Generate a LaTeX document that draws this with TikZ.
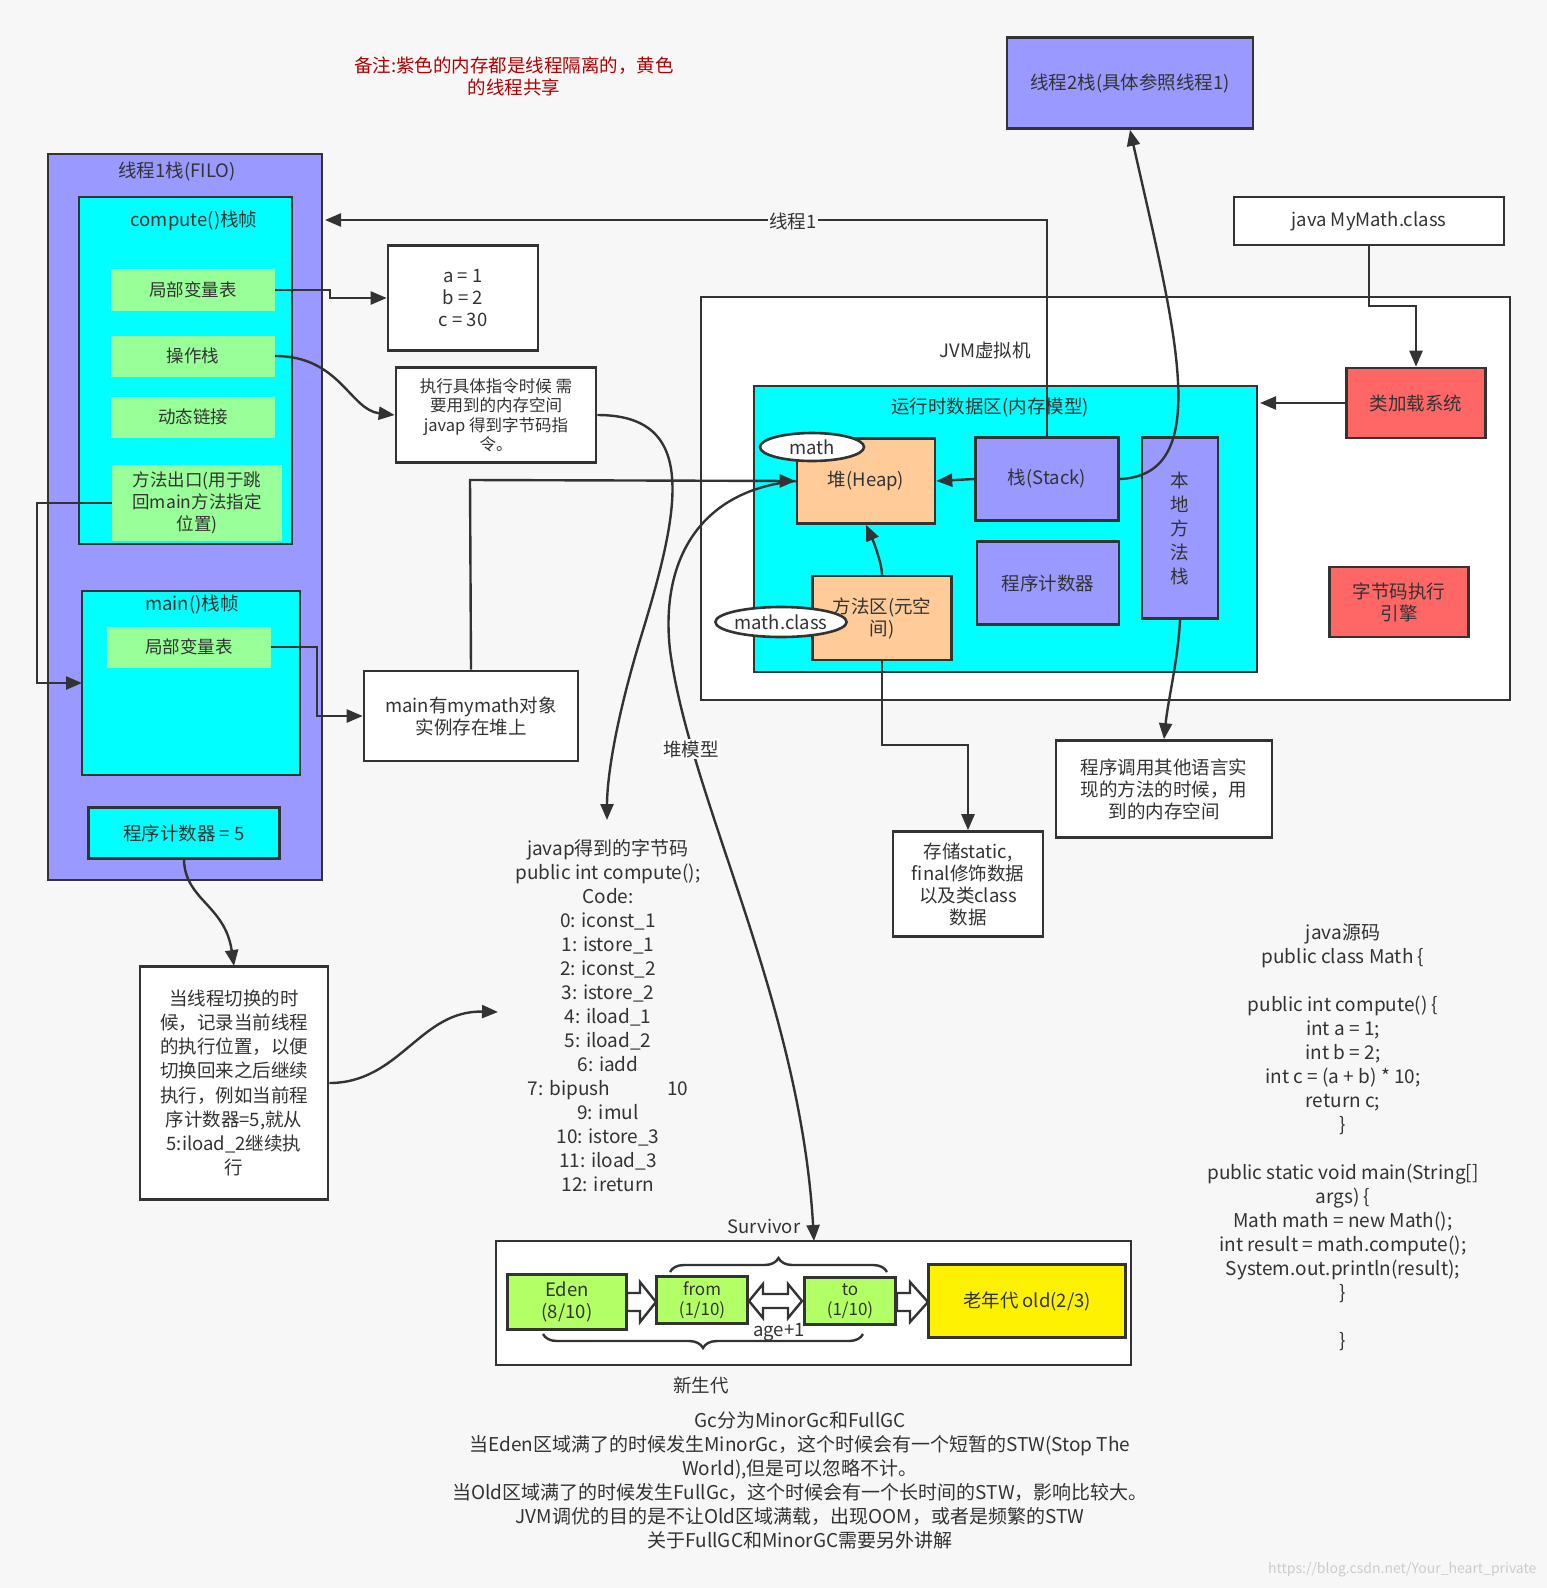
\documentclass[tikz,border=0pt]{standalone}
\usepackage{fontspec}
\setmainfont{Noto Sans CJK SC}
\usetikzlibrary{arrows.meta,decorations.pathreplacing,shapes.geometric}
\definecolor{ln}{HTML}{333333}
\definecolor{purp}{HTML}{9999FF}
\definecolor{cy}{HTML}{00FFFF}
\definecolor{gr}{HTML}{99FF99}
\definecolor{org}{HTML}{FFCC99}
\definecolor{rd}{HTML}{FF6666}
\definecolor{eden}{HTML}{B3FF66}
\definecolor{note}{HTML}{B20000}
\begin{document}
\begin{tikzpicture}[x=1pt,y=-1pt,
  every node/.style={font=\fontsize{18.5}{22}\selectfont, text=ln, align=center},
  box/.style={draw=ln, line width=2.6pt},
  gbox/.style={fill=gr},
  con/.style={draw=ln, line width=2.4pt, -{Triangle[length=16pt,width=13pt]}},
  pl/.style={draw=ln, line width=2.4pt},
  harr/.style={draw=ln, line width=2.4pt, fill=white}]
\useasboundingbox (0,0) rectangle (1547,1588);
\fill[white!97!black] (0,0) rectangle (1547,1588);
% note
\node[text=note] (note) at (514,76) {备注:紫色的内存都是线程隔离的，黄色\\的线程共享};
% thread2
\node[box, fill=purp, minimum width=246, minimum height=91] (t2) at (1130,83) {线程2栈(具体参照线程1)};
% thread1 stack
\draw[box, fill=purp] (48,154) rectangle (322,880);
\node (t1lab) at (177,172) {线程1栈(FILO)};
\draw[box, fill=cy] (79,197) rectangle (292,544);
\node (cplab) at (194,221) {compute()栈帧};
\node[gbox, minimum width=164, minimum height=42, font=\fontsize{17.5}{21}\selectfont] (lv1) at (193,290) {局部变量表};
\node[gbox, minimum width=164, minimum height=41, font=\fontsize{17.5}{21}\selectfont] (os) at (193,356) {操作栈};
\node[gbox, minimum width=164, minimum height=41, font=\fontsize{17.5}{21}\selectfont] (dl) at (193,417) {动态链接};
\node[gbox, minimum width=170, minimum height=76, font=\fontsize{17.5}{22}\selectfont] (mo) at (197,503) {方法出口(用于跳\\回main方法指定\\位置)};
\draw[box, fill=cy] (82,591) rectangle (300,775);
\node (mnlab) at (192,605) {main()栈帧};
\node[gbox, minimum width=164, minimum height=41, font=\fontsize{17.5}{21}\selectfont] (lv2) at (189,647) {局部变量表};
\node[box, fill=cy, minimum width=191, minimum height=51] (pc5) at (184,833) {程序计数器 = 5};
% side boxes
\node[box, fill=white, minimum width=150, minimum height=105] (abc) at (463,298) {a = 1\\b = 2\\c = 30};
\node[box, fill=white, minimum width=200, minimum height=95, font=\fontsize{16.5}{19.5}\selectfont] (exe) at (496,415) {执行具体指令时候 需\\要用到的内存空间\\javap 得到字节码指\\令。};
\node[box, fill=white, minimum width=214, minimum height=90] (mm) at (471,716) {main有mymath对象\\实例存在堆上};
\node[box, fill=white, minimum width=188, minimum height=233, font=\fontsize{18.5}{24.2}\selectfont] (sw) at (234,1083) {当线程切换的时\\候，记录当前线程\\的执行位置，以便\\切换回来之后继续\\执行，例如当前程\\序计数器=5,就从\\5:iload\_2继续执\\行};
% JVM
\draw[box, fill=white] (701,297) rectangle (1510,700);
\node (jvmlab) at (985,350) {JVM虚拟机};
\draw[box, fill=cy] (754,386) rectangle (1257,672);
\node (rtlab) at (990,408) {运行时数据区(内存模型)};
\node[box, fill=org, minimum width=138, minimum height=85] (heap) at (866,481) {堆(Heap)};
\node[box, fill=purp, minimum width=143, minimum height=83] (stk) at (1047,479) {栈(Stack)};
\node[box, fill=purp, minimum width=76, minimum height=181, font=\fontsize{18.5}{24}\selectfont] (nms) at (1180,528) {本\\地\\方\\法\\栈};
\node[box, fill=purp, minimum width=142, minimum height=83] (pcr) at (1048,583) {程序计数器};
\node[box, fill=org, minimum width=139, minimum height=84] (ma) at (882,618) {方法区(元空\\间)};
\node[box, fill=white, ellipse, minimum width=104, minimum height=28, inner sep=0] (e1) at (812,447) {math};
\node[box, fill=white, ellipse, minimum width=124, minimum height=30, inner sep=0] (e2) at (781,622) {math.class};
\node[box, fill=white, minimum width=270, minimum height=48] (jmc) at (1369,221) {java MyMath.class};
\node[box, fill=rd, minimum width=139, minimum height=70] (cls) at (1416,403) {类加载系统};
\node[box, fill=rd, minimum width=139, minimum height=70] (eng) at (1399,602) {字节码执行\\引擎};
\node[box, fill=white, minimum width=216, minimum height=97] (nat) at (1164,789) {程序调用其他语言实\\现的方法的时候，用\\到的内存空间};
\node[box, fill=white, minimum width=150, minimum height=105] (st) at (968,884) {存储static,\\final修饰数据\\以及类class\\数据};
% code text
\node[font=\fontsize{19}{24}\selectfont] (code) at (608,1016) {javap得到的字节码\\public int compute();\\Code:\\0: iconst\_1\\1: istore\_1\\2: iconst\_2\\3: istore\_2\\4: iload\_1\\5: iload\_2\\6: iadd\\7: bipush\hspace{3em}10\\9: imul\\10: istore\_3\\11: iload\_3\\12: ireturn};
\node[font=\fontsize{19}{24}\selectfont] (src) at (1343,1137) {java源码\\public class Math \{\\ \\public int compute() \{\\int a = 1;\\int b = 2;\\int c = (a + b) * 10;\\return c;\\\}\\ \\public static void main(String[]\\args) \{\\Math math = new Math();\\int result = math.compute();\\System.out.println(result);\\\}\\ \\\}};
% heap model
\draw[box, fill=white] (496,1241) rectangle (1131,1365);
\node[box, fill=eden, minimum width=119, minimum height=55] (eden) at (567,1302) {Eden\\(8/10)};
\node[box, fill=eden, minimum width=91, minimum height=47, font=\fontsize{17}{20}\selectfont] (from) at (702,1300) {from\\(1/10)};
\node[box, fill=eden, minimum width=91, minimum height=47, font=\fontsize{17}{20}\selectfont] (to) at (850,1301) {to\\(1/10)};
\node[box, fill=yellow, minimum width=197, minimum height=73] (old) at (1027,1301) {老年代 old(2/3)};
\node (surv) at (764,1226) {Survivor};
\node (age) at (779,1332) {age+1};
\node (xsd) at (701,1385) {新生代};
\draw[pl, decorate, decoration={brace, amplitude=14pt}] (670,1272) -- (887,1272);
\draw[pl, decorate, decoration={brace, amplitude=14pt, mirror}] (543,1334) -- (863,1334);
% hollow arrows
\draw[harr] (627,1293) -- (640,1293) -- (640,1282) -- (656,1302) -- (640,1322) -- (640,1311) -- (627,1311) -- cycle;
\draw[harr] (749,1301) -- (763,1284) -- (763,1294) -- (788,1294) -- (788,1284) -- (802,1301) -- (788,1318) -- (788,1308) -- (763,1308) -- (763,1318) -- cycle;
\draw[harr] (897,1293) -- (910,1293) -- (910,1282) -- (928,1302) -- (910,1322) -- (910,1311) -- (897,1311) -- cycle;
\node[font=\fontsize{19}{24}\selectfont] (gc) at (800,1480) {Gc分为MinorGc和FullGC\\当Eden区域满了的时候发生MinorGc，这个时候会有一个短暂的STW(Stop The\\World),但是可以忽略不计。\\当Old区域满了的时候发生FullGc，这个时候会有一个长时间的STW，影响比较大。\\JVM调优的目的是不让Old区域满载，出现OOM，或者是频繁的STW\\关于FullGC和MinorGC需要另外讲解};
\node[text=black!20, font=\fontsize{14}{15}\selectfont, anchor=east] (wm) at (1540,1570) {https://blog.csdn.net/Your\_heart\_private};
% connectors
\coordinate (c1) at (1047,220);
\draw[con] (stk.north) -- (c1) -- (325,220);
\node[fill=white!97!black, inner sep=1pt] (l1) at (793,221) {线程1};
\draw[con] (stk.east) .. controls (1215,475) and (1175,330) .. (t2.south);
\draw[con] (stk.west) -- (heap.east);
\draw[con] (ma.north) .. controls (882,565) and (875,545) .. (heap.south);
\draw[con] (lv1.east) -- (330,290) -- (330,298) -- (abc.west);
\draw[con] (os.east) .. controls (340,356) and (350,410) .. (exe.west);
\draw[con] (mo.west) -- (37,503) -- (37,683) -- (82,683);
\draw[con] (lv2.east) -- (317,647) -- (317,716) -- (mm.west);
\draw[con] (mm.north) -- (470,480) -- (heap.west);
\draw[con] (exe.east) .. controls (700,415) and (680,510) .. (640,640) .. controls (610,740) and (607,790) .. (607,820);
\draw[con] (pc5.south) .. controls (185,900) and (225,905) .. (234,966);
\draw[con] (sw.east) .. controls (400,1083) and (420,1010) .. (498,1012);
\draw[con] (heap.west) .. controls (700,490) and (660,560) .. (670,650) .. controls (690,800) and (800,1000) .. (814,1241);
\node[fill=white, inner sep=1pt] (hm) at (691,749) {堆模型};
\draw[con] (ma.south) -- (882,745) -- (968,745) -- (st.north);
\draw[con] (nms.south) .. controls (1178,660) and (1168,700) .. (nat.north);
\draw[con] (jmc.south) -- (1369,306) -- (1416,306) -- (cls.north);
\draw[con] (cls.west) -- (1260,403);
\end{tikzpicture}
\end{document}
